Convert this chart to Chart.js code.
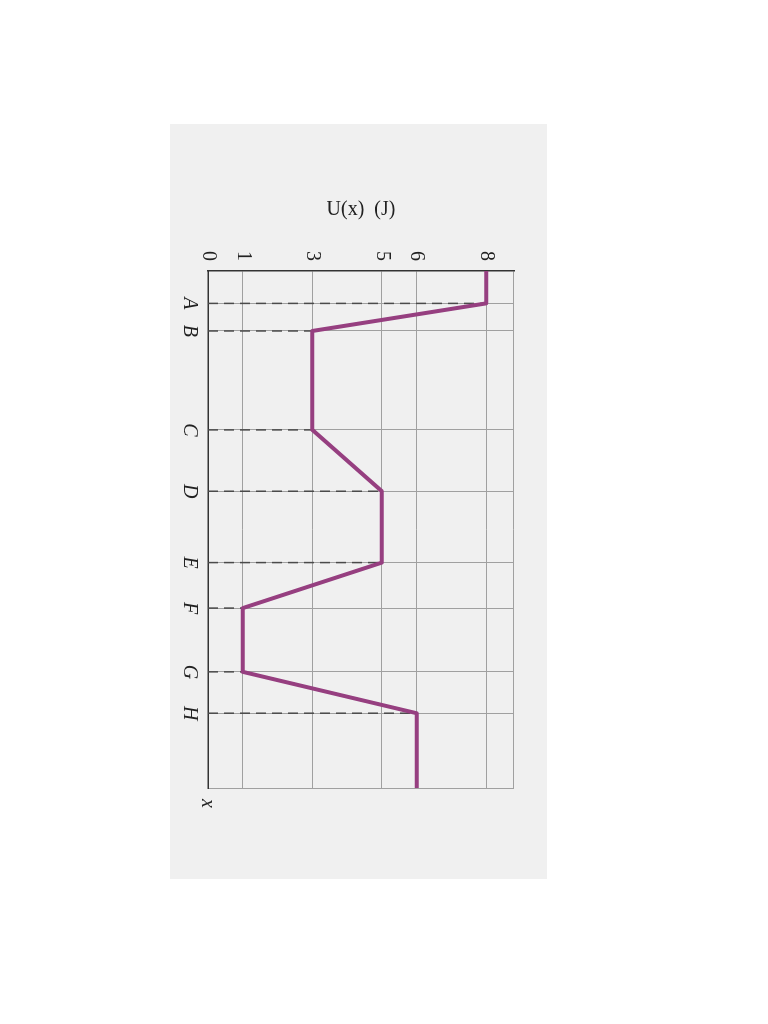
<!DOCTYPE html>
<html>
<head>
<meta charset="utf-8">
<script src="https://cdn.jsdelivr.net/npm/chart.js@4.4.0/dist/chart.umd.min.js"></script>
<style>
  html, body { margin: 0; background: #fff; }
  /* the scanned page is turned a quarter turn clockwise */
  #page {
    position: absolute; left: 547px; top: 124px;
    width: 755px; height: 377px;
    transform-origin: 0 0; transform: rotate(90deg);
    background: #f0f0f0;
  }
</style>
</head>
<body>
<div id="page"><canvas id="Chart" width="755" height="377"></canvas></div>
<script>
const letters = ['A', 'B', 'C', 'D', 'E', 'F', 'G', 'H'];
const letterX = [0.94, 1.74, 4.61, 6.39, 8.46, 9.78, 11.63, 12.83];
const letterU = [8, 3, 3, 5, 5, 1, 1, 6];
const curveX = [0, 0.94, 1.74, 4.61, 6.39, 8.46, 9.78, 11.63, 12.83, 15];
const curveU = [8, 8, 3, 3, 5, 5, 1, 1, 6, 6];
const uTicks = [0, 1, 3, 5, 6, 8];
const xMax = 15;
const uMax = 8.8;

const serif = '"Liberation Serif", "DejaVu Serif", serif';

let curve = {
  data: curveX.map((x, i) => ({ x: x, y: curveU[i] })),
  borderColor: '#963f80',
  borderWidth: 4,
  pointRadius: 0,
  showLine: true,
  borderJoinStyle: 'round'
};

let dashes = letterX.map((x, i) => ({
  data: [{ x: x, y: 0 }, { x: x, y: letterU[i] }],
  borderColor: '#4a4a4a',
  borderWidth: 1.5,
  borderDash: [10, 6],
  pointRadius: 0,
  showLine: true
}));

// "x" at the far end of the position axis
const axisName = {
  id: 'axisName',
  afterDraw(chart) {
    const { ctx, chartArea } = chart;
    ctx.save();
    ctx.font = 'italic 20px ' + serif;
    ctx.fillStyle = '#222';
    ctx.textBaseline = 'middle';
    ctx.fillText('x', chartArea.right + 11, chartArea.bottom + 1);
    ctx.restore();
  }
};

new Chart(document.getElementById('Chart'), {
  type: 'scatter',
  data: { datasets: [curve].concat(dashes) },
  options: {
    responsive: false,
    animation: false,
    layout: { padding: { left: 0, right: 91, top: 33, bottom: 0 } },
    plugins: { legend: { display: false }, tooltip: { enabled: false } },
    scales: {
      x: {
        type: 'linear',
        min: 0,
        max: xMax,
        afterBuildTicks: s => { s.ticks = [0].concat(letterX, [xMax]).map(v => ({ value: v })); },
        afterFit: s => { s.height = 38; },
        grid: {
          drawTicks: false,
          color: c => (c.tick && c.tick.value === 0) ? 'rgba(0,0,0,0)' : '#a0a0a0',
          lineWidth: 1
        },
        border: { color: '#333', width: 1.5 },
        ticks: {
          padding: 7,
          autoSkip: false,
          maxRotation: 0,
          color: '#222',
          font: { family: serif, size: 20, style: 'italic' },
          callback: v => {
            const i = letterX.indexOf(v);
            return i < 0 ? '' : letters[i];
          }
        }
      },
      y: {
        type: 'linear',
        min: 0,
        max: uMax,
        afterBuildTicks: s => { s.ticks = uTicks.concat([uMax]).map(v => ({ value: v })); },
        afterFit: s => { s.width = 147; },
        grid: {
          drawTicks: false,
          color: c => (c.tick && c.tick.value === 0) ? 'rgba(0,0,0,0)' : '#a0a0a0',
          lineWidth: 1
        },
        border: { color: '#333', width: 1.5 },
        ticks: {
          padding: 10,
          color: '#222',
          font: { family: serif, size: 20 },
          callback: v => uTicks.includes(v) ? String(v) : ''
        },
        title: {
          display: true,
          text: 'U(x)  (J)',
          color: '#222',
          font: { family: serif, size: 20 },
          padding: { top: 74, bottom: 0 }
        }
      }
    }
  },
  plugins: [axisName]
});
</script>
</body>
</html>
